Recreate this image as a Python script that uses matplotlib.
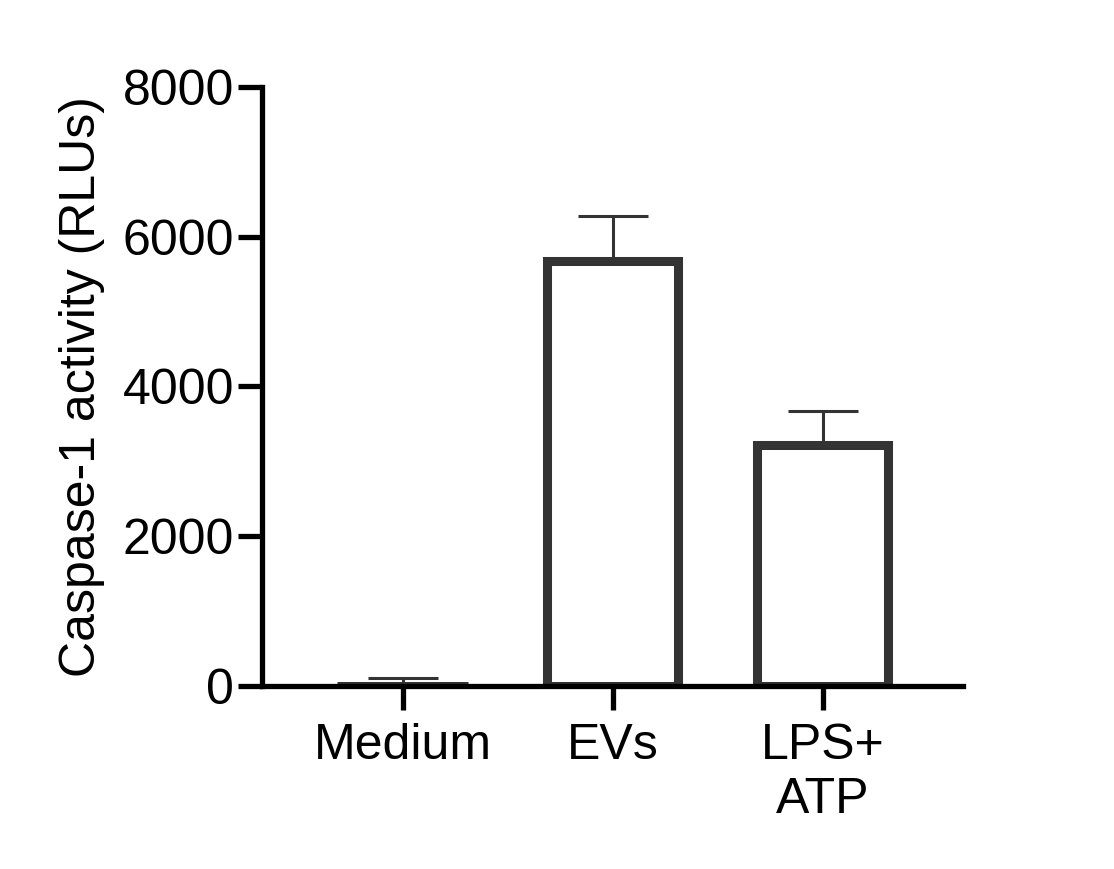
import matplotlib
matplotlib.use("Agg")
import matplotlib.pyplot as plt

categories = ["Medium", "EVs", "LPS+\nATP"]
means = [5, 5680, 3220]
errors = [100, 600, 450]
yticks = [0, 2000, 4000, 6000, 8000]

plt.rcParams['font.family'] = ['Liberation Sans', 'DejaVu Sans']

fig = plt.figure(figsize=(11.14, 8.69), dpi=100)
ax = fig.add_axes([0.2352, 0.2106, 0.6293, 0.6894])

x = list(range(len(categories)))
ax.bar(x, means, width=0.624, facecolor='white', edgecolor='#333333',
       linewidth=6.5, zorder=2)
ax.errorbar(x, means, yerr=[[0]*len(errors), errors], fmt='none',
            ecolor='#333333', elinewidth=2.2, capsize=25, capthick=2.2, zorder=1)

ax.set_xlim(-0.669, 2.669)
ax.set_ylim(0, 8000)
ax.set_yticks(yticks)
ax.set_yticklabels([str(v) for v in yticks], fontsize=36)
ax.set_xticks(x)
ax.set_xticklabels(categories, fontsize=36, linespacing=1.2)
ax.set_ylabel("Caspase-1 activity (RLUs)", fontsize=36, labelpad=13)

for s in ['top', 'right']:
    ax.spines[s].set_visible(False)
for s in ['left', 'bottom']:
    ax.spines[s].set_linewidth(3.8)
    ax.spines[s].set_zorder(5)
ax.tick_params(axis='both', width=3.8, length=17, direction='out')
ax.tick_params(axis='x', pad=10)
ax.tick_params(axis='y', pad=3)

fig.savefig("out.png", dpi=100)
